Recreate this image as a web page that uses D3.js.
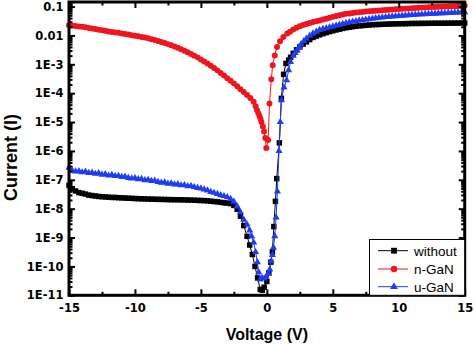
<!DOCTYPE html>
<html>
<head>
<meta charset="utf-8">
<script src="https://cdn.jsdelivr.net/npm/d3@7/dist/d3.min.js"></script>
<style>
    html, body { margin: 0; padding: 0; background: #fff; }
    svg { display: block; }
</style>
</head>
<body>
<div class="chart"></div>
<script>
/* voltage sweep, shared by all three samples away from the turn-on region */
const sweepNeg = [-15, -14.75, -14.5, -14.25, -14, -13.75, -13.5, -13.25, -13, -12.75, -12.5, -12.25, -12,
    -11.75, -11.5, -11.25, -11, -10.75, -10.5, -10.25, -10, -9.75, -9.5, -9.25, -9, -8.75, -8.5, -8.25, -8,
    -7.75, -7.5, -7.25, -7, -6.75, -6.5, -6.25, -6, -5.75, -5.5, -5.25, -5, -4.75, -4.5, -4.25, -4, -3.75,
    -3.5, -3.25, -3];
const sweepPos = [4, 4.25, 4.5, 4.75, 5, 5.25, 5.5, 5.75, 6, 6.25, 6.5, 6.75, 7, 7.25, 7.5, 7.75, 8, 8.25,
    8.5, 8.75, 9, 9.25, 9.5, 9.75, 10, 10.25, 10.5, 10.75, 11, 11.25, 11.5, 11.75, 12, 12.25, 12.5, 12.75,
    13, 13.25, 13.5, 13.75, 14, 14.25, 14.5, 14.75, 15];

/* without */
const negWithout = [6.4e-8, 4.9e-8, 4.1e-8, 3.6e-8, 3.4e-8, 3.2e-8, 2.95e-8, 2.85e-8, 2.75e-8, 2.65e-8,
    2.6e-8, 2.55e-8, 2.5e-8, 2.45e-8, 2.45e-8, 2.4e-8, 2.38e-8, 2.33e-8, 2.3e-8, 2.28e-8, 2.25e-8, 2.22e-8,
    2.2e-8, 2.18e-8, 2.15e-8, 2.14e-8, 2.12e-8, 2.1e-8, 2.1e-8, 2.08e-8, 2.07e-8, 2.05e-8, 2.05e-8, 2.04e-8,
    2.03e-8, 2.02e-8, 2.0e-8, 1.98e-8, 1.96e-8, 1.94e-8, 1.92e-8, 1.9e-8, 1.87e-8, 1.82e-8, 1.77e-8,
    1.72e-8, 1.66e-8, 1.6e-8, 1.56e-8];
const midVoltsWithout = [-2.75, -2.5, -2.25, -2, -1.75, -1.5, -1.3, -1.1, -0.9, -0.7, -0.5, -0.35, -0.2, 0,
    0.15, 0.3, 0.42, 0.53, 0.65, 0.75, 0.95, 1.1, 1.27, 1.45, 1.65, 1.8, 2, 2.25, 2.5, 2.75, 3, 3.25, 3.5, 3.75];
const midWithout = [1.5e-8, 1.3e-8, 9.5e-9, 5.5e-9, 2.6e-9, 1.1e-9, 5.5e-10, 2.6e-10, 1.0e-10, 4.0e-11,
    1.6e-11, 1.5e-11, 1.9e-11, 3.0e-11, 6.0e-11, 1.4e-10, 3.2e-10, 2.4e-9, 1.8e-8, 1.1e-7, 1.9e-6, 6.6e-5,
    4.5e-4, 1.07e-3, 1.4e-3, 1.75e-3, 2.4e-3, 3.2e-3, 4.0e-3, 5.0e-3, 6.0e-3, 7.2e-3, 8.5e-3, 9.5e-3];
const posWithout = [1.05e-2, 1.15e-2, 1.25e-2, 1.35e-2, 1.45e-2, 1.55e-2, 1.65e-2, 1.75e-2, 1.85e-2,
    1.93e-2, 2.0e-2, 2.08e-2, 2.15e-2, 2.2e-2, 2.25e-2, 2.3e-2, 2.35e-2, 2.38e-2, 2.4e-2, 2.43e-2, 2.45e-2,
    2.48e-2, 2.5e-2, 2.52e-2, 2.55e-2, 2.55e-2, 2.56e-2, 2.58e-2, 2.6e-2, 2.6e-2, 2.61e-2, 2.62e-2, 2.62e-2,
    2.63e-2, 2.64e-2, 2.64e-2, 2.65e-2, 2.65e-2, 2.66e-2, 2.66e-2, 2.67e-2, 2.67e-2, 2.68e-2, 2.69e-2, 2.7e-2];

/* n-GaN */
const negNGaN = [2.24e-2, 2.19e-2, 2.14e-2, 2.04e-2, 2.0e-2, 1.91e-2, 1.82e-2, 1.74e-2, 1.66e-2, 1.58e-2,
    1.51e-2, 1.45e-2, 1.38e-2, 1.32e-2, 1.26e-2, 1.23e-2, 1.17e-2, 1.12e-2, 1.07e-2, 1.02e-2, 9.77e-3,
    9.33e-3, 8.91e-3, 8.51e-3, 7.94e-3, 7.41e-3, 6.92e-3, 6.46e-3, 5.89e-3, 5.5e-3, 5.01e-3, 4.57e-3,
    4.17e-3, 3.72e-3, 3.31e-3, 2.95e-3, 2.63e-3, 2.29e-3, 2.0e-3, 1.74e-3, 1.48e-3, 1.26e-3, 1.07e-3,
    8.91e-4, 7.41e-4, 6.17e-4, 5.01e-4, 4.07e-4, 3.31e-4];
const midVoltsNGaN = [-2.75, -2.5, -2.25, -2, -1.75, -1.5, -1.25, -1, -0.85, -0.74, -0.65, -0.56, -0.48,
    -0.41, -0.3, -0.21, -0.12, -0.04, 0.1, 0.2, 0.34, 0.44, 0.6, 0.77, 1, 1.25, 1.55, 1.75, 2, 2.25, 2.5,
    2.75, 3, 3.25, 3.5, 3.75];
const midNGaN = [2.69e-4, 2.19e-4, 1.74e-4, 1.38e-4, 1.1e-4, 8.71e-5, 6.76e-5, 5.01e-5, 3.55e-5, 2.57e-5,
    2.04e-5, 1.62e-5, 1.29e-5, 1.0e-5, 7.08e-6, 4.68e-6, 2.82e-6, 1.26e-6, 2.4e-6, 4.37e-5, 3.02e-4,
    9.33e-4, 2.04e-3, 3.98e-3, 6.31e-3, 8.91e-3, 1.17e-2, 1.35e-2, 1.6e-2, 1.85e-2, 2.1e-2, 2.3e-2, 2.5e-2,
    2.7e-2, 2.9e-2, 3.1e-2];
const posNGaN = [3.3e-2, 3.55e-2, 3.8e-2, 4.1e-2, 4.4e-2, 4.7e-2, 5.0e-2, 5.3e-2, 5.6e-2, 5.8e-2, 6.0e-2,
    6.2e-2, 6.4e-2, 6.55e-2, 6.7e-2, 6.85e-2, 7.0e-2, 7.15e-2, 7.3e-2, 7.45e-2, 7.6e-2, 7.75e-2, 7.9e-2,
    8.05e-2, 8.2e-2, 8.35e-2, 8.5e-2, 8.65e-2, 8.8e-2, 8.95e-2, 9.1e-2, 9.2e-2, 9.3e-2, 9.45e-2, 9.6e-2,
    9.7e-2, 9.8e-2, 9.9e-2, 0.1, 0.101, 0.102, 0.103, 0.104, 0.105, 0.106];

/* u-GaN */
const negUGaN = [2.63e-7, 2.09e-7, 1.95e-7, 2.0e-7, 1.82e-7, 1.91e-7, 1.74e-7, 1.78e-7, 1.62e-7, 1.7e-7,
    1.51e-7, 1.58e-7, 1.41e-7, 1.48e-7, 1.35e-7, 1.38e-7, 1.26e-7, 1.29e-7, 1.17e-7, 1.12e-7, 1.15e-7,
    1.05e-7, 1.07e-7, 9.77e-8, 1.0e-7, 9.12e-8, 9.33e-8, 8.51e-8, 7.94e-8, 8.13e-8, 7.41e-8, 7.59e-8,
    6.92e-8, 7.08e-8, 6.46e-8, 6.61e-8, 6.03e-8, 6.17e-8, 5.62e-8, 5.25e-8, 5.01e-8, 4.68e-8, 4.27e-8,
    3.8e-8, 3.55e-8, 3.24e-8, 2.95e-8, 2.75e-8, 2.51e-8];
const midVoltsUGaN = [-2.75, -2.5, -2.25, -2, -1.75, -1.5, -1.3, -1.15, -1, -0.85, -0.72, -0.62, -0.5,
    -0.35, -0.2, -0.05, 0.1, 0.22, 0.32, 0.42, 0.5, 0.6, 0.7, 0.8, 0.92, 1.02, 1.1, 1.3, 1.5, 1.65, 1.8, 2,
    2.15, 2.3, 2.45, 2.6, 2.8, 3, 3.25, 3.5, 3.75];
const midUGaN = [2.19e-8, 1.74e-8, 1.2e-8, 7.59e-9, 4.17e-9, 2.82e-9, 1.78e-9, 1.1e-9, 6.76e-10, 3.16e-10,
    1.41e-10, 6.31e-11, 3.55e-11, 3.98e-11, 3.8e-11, 4.47e-11, 5.62e-11, 7.94e-11, 1.51e-10, 2.51e-10,
    4.47e-10, 1.12e-9, 5.01e-9, 3.98e-8, 1e-6, 1e-5, 5.75e-5, 1.58e-4, 2.82e-4, 6.31e-4, 1.2e-3, 2.0e-3,
    2.5e-3, 3.02e-3, 4.0e-3, 5.0e-3, 6.3e-3, 7.8e-3, 9.8e-3, 1.17e-2, 1.36e-2];
const posUGaN = [1.55e-2, 1.68e-2, 1.8e-2, 1.92e-2, 2.05e-2, 2.2e-2, 2.35e-2, 2.52e-2, 2.7e-2, 2.85e-2,
    3.0e-2, 3.15e-2, 3.3e-2, 3.42e-2, 3.55e-2, 3.68e-2, 3.8e-2, 3.95e-2, 4.1e-2, 4.22e-2, 4.35e-2, 4.45e-2,
    4.55e-2, 4.65e-2, 4.75e-2, 4.85e-2, 4.95e-2, 5.05e-2, 5.15e-2, 5.22e-2, 5.3e-2, 5.4e-2, 5.5e-2, 5.58e-2,
    5.65e-2, 5.72e-2, 5.8e-2, 5.88e-2, 5.95e-2, 6.02e-2, 6.1e-2, 6.18e-2, 6.25e-2, 6.32e-2, 6.4e-2];

/* axes */
const xMajorTicks = [-15, -10, -5, 0, 5, 10, 15];
const xMinorTicks = [-12.5, -7.5, -2.5, 2.5, 7.5, 12.5];
const yDecades = [1e-11, 1e-10, 1e-9, 1e-8, 1e-7, 1e-6, 1e-5, 1e-4, 1e-3, 1e-2, 1e-1];
const yTickLabels = ['1E-11', '1E-10', '1E-9', '1E-8', '1E-7', '1E-6', '1E-5', '1E-4', '1E-3', '0.01', '0.1'];
const seriesNames = ['without', 'n-GaN', 'u-GaN'];

(function () {
    'use strict';

    const width = 474;
    const height = 344;
    const plotBox = { left: 69, right: 464.7, top: 2, bottom: 295.3 };
    const colors = ['#000000', '#f0141e', '#1e3cf0'];
    const symbols = [d3.symbolSquare, d3.symbolCircle, d3.symbolTriangle];
    const symbolSizes = [30, 28, 22];

    const svg = d3.select('.chart').append('svg')
        .attr('width', width)
        .attr('height', height);

    const x = d3.scaleLinear().domain([-15, 15]).range([plotBox.left, plotBox.right]);
    const y = d3.scaleLog().domain([1e-11, 0.144]).range([plotBox.bottom, plotBox.top]);

    /* minor log ticks: 2..9 within each decade */
    const yMinorTicks = [];
    yDecades.slice(0, -1).forEach(function (d) {
        for (let k = 2; k <= 9; k++) {
            yMinorTicks.push(d * k);
        }
    });
    yMinorTicks.push(0.11, 0.12, 0.13, 0.14);

    function series(volts, currents) {
        return volts.map(function (v, i) {
            return { v: v, i: currents[i] };
        });
    }

    const data = [
        series(sweepNeg.concat(midVoltsWithout, sweepPos), negWithout.concat(midWithout, posWithout)),
        series(sweepNeg.concat(midVoltsNGaN, sweepPos), negNGaN.concat(midNGaN, posNGaN)),
        series(sweepNeg.concat(midVoltsUGaN, sweepPos), negUGaN.concat(midUGaN, posUGaN))
    ];

    /* görbék */
    const line = d3.line()
        .x(function (d) { return x(d.v); })
        .y(function (d) { return y(d.i); });

    data.forEach(function (pts, s) {
        const g = svg.append('g').attr('class', 'series-' + s);
        g.append('path')
            .datum(pts)
            .attr('d', line)
            .attr('fill', 'none')
            .attr('stroke', colors[s])
            .attr('stroke-width', 1);
        g.selectAll('.pt').data(pts)
            .enter().append('path')
            .attr('class', 'pt')
            .attr('d', d3.symbol().type(symbols[s]).size(symbolSizes[s]))
            .attr('transform', function (d) {
                return 'translate(' + x(d.v) + ',' + y(d.i) + ')';
            })
            .attr('fill', colors[s]);
    });

    /* tengelyek */
    function styleAxis(g) {
        g.select('.domain').remove();
        g.selectAll('.tick line').attr('stroke', '#000').attr('stroke-width', 2);
        g.selectAll('.tick text')
            .attr('fill', '#000')
            .style('font-family', '"DejaVu Sans", sans-serif')
            .style('font-weight', 'bold')
            .style('font-size', '11.5px');
    }

    svg.append('g')
        .attr('transform', 'translate(0,' + plotBox.bottom + ')')
        .call(d3.axisBottom(x).tickValues(xMajorTicks).tickSize(-6).tickPadding(8.5)
            .tickFormat(function (d) { return String(d); }))
        .call(styleAxis);
    svg.append('g')
        .attr('transform', 'translate(0,' + plotBox.bottom + ')')
        .call(d3.axisBottom(x).tickValues(xMinorTicks).tickSize(-3.5).tickFormat(''))
        .call(styleAxis);
    svg.append('g')
        .attr('transform', 'translate(0,' + plotBox.top + ')')
        .call(d3.axisTop(x).tickValues(xMajorTicks).tickSize(-6).tickFormat(''))
        .call(styleAxis);
    svg.append('g')
        .attr('transform', 'translate(0,' + plotBox.top + ')')
        .call(d3.axisTop(x).tickValues(xMinorTicks).tickSize(-3.5).tickFormat(''))
        .call(styleAxis);

    svg.append('g')
        .attr('transform', 'translate(' + plotBox.left + ',0)')
        .call(d3.axisLeft(y).tickValues(yDecades).tickSize(-6).tickPadding(5.5)
            .tickFormat(function (d, i) { return yTickLabels[i]; }))
        .call(styleAxis);
    svg.append('g')
        .attr('transform', 'translate(' + plotBox.left + ',0)')
        .call(d3.axisLeft(y).tickValues(yMinorTicks).tickSize(-3.5).tickFormat(''))
        .call(styleAxis);
    svg.append('g')
        .attr('transform', 'translate(' + plotBox.right + ',0)')
        .call(d3.axisRight(y).tickValues(yDecades).tickSize(-6).tickFormat(''))
        .call(styleAxis);
    svg.append('g')
        .attr('transform', 'translate(' + plotBox.right + ',0)')
        .call(d3.axisRight(y).tickValues(yMinorTicks).tickSize(-3.5).tickFormat(''))
        .call(styleAxis);

    /* keret */
    svg.append('rect')
        .attr('x', plotBox.left)
        .attr('y', plotBox.top)
        .attr('width', plotBox.right - plotBox.left)
        .attr('height', plotBox.bottom - plotBox.top)
        .attr('fill', 'none')
        .attr('stroke', '#000')
        .attr('stroke-width', 3);

    /* tengelyfeliratok */
    svg.append('text')
        .text('Voltage (V)')
        .attr('x', (plotBox.left + plotBox.right) / 2)
        .attr('y', 339.5)
        .attr('text-anchor', 'middle')
        .style('font-family', '"Liberation Sans", Arial, sans-serif')
        .style('font-weight', 'bold')
        .style('font-size', '16px');
    svg.append('text')
        .text('Current (I)')
        .attr('transform', 'translate(16.5,157.5) rotate(-90)')
        .attr('text-anchor', 'middle')
        .style('font-family', '"Liberation Sans", Arial, sans-serif')
        .style('font-weight', 'bold')
        .style('font-size', '18px');

    /* jelmagyarázat */
    const legend = svg.append('g').attr('class', 'legend');
    legend.append('rect')
        .attr('x', 369.5)
        .attr('y', 239.5)
        .attr('width', plotBox.right - 369.5)
        .attr('height', plotBox.bottom - 239.5)
        .attr('fill', '#fff')
        .attr('stroke', '#000')
        .attr('stroke-width', 1);
    const rows = [250.7, 269, 286.7];
    seriesNames.forEach(function (name, s) {
        legend.append('line')
            .attr('x1', 378).attr('x2', 408)
            .attr('y1', rows[s]).attr('y2', rows[s])
            .attr('stroke', colors[s])
            .attr('stroke-width', 1);
        legend.append('path')
            .attr('d', d3.symbol().type(symbols[s]).size(symbolSizes[s] + 4))
            .attr('transform', 'translate(394,' + rows[s] + ')')
            .attr('fill', colors[s]);
        legend.append('text')
            .text(name)
            .attr('x', 414)
            .attr('y', rows[s] + 4.8)
            .style('font-family', '"Liberation Sans", Arial, sans-serif')
            .style('font-size', '13.5px')
            .attr('fill', '#000');
    });
}());
</script>
</body>
</html>
